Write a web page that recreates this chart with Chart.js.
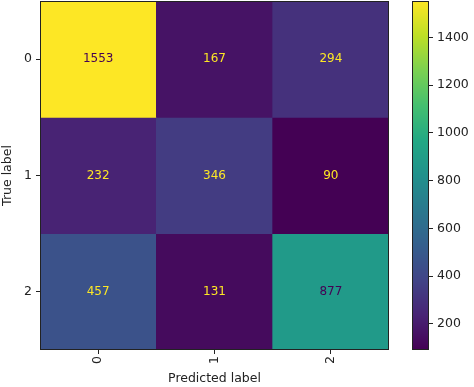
<!DOCTYPE html>
<html>
<head>
<meta charset="utf-8">
<script src="https://cdn.jsdelivr.net/npm/chart.js@4.4.0/dist/chart.umd.min.js"></script>
<style>
  body { margin: 0; background: #fff; }
  #wrap { position: relative; width: 474px; height: 387px; }
  canvas { position: absolute; top: 0; }
</style>
</head>
<body>
<div id="wrap">
  <canvas id="matrix" width="393" height="387" style="left:0"></canvas>
  <canvas id="cbar" width="69" height="387" style="left:405px"></canvas>
</div>
<script>
// confusion matrix counts, rows = true label, columns = predicted label
const trueLabels = ["0", "1", "2"];
const predLabels = ["0", "1", "2"];
const row0 = [1553, 167, 294];
const row1 = [232, 346, 90];
const row2 = [457, 131, 877];
const rows = [row0, row1, row2];
const cbTicks = [200, 400, 600, 800, 1000, 1200, 1400];

const allVals = rows.flat();
const vmin = Math.min(...allVals);
const vmax = Math.max(...allVals);

// viridis stops
const viridisStops = ["#440154", "#482475", "#414487", "#355f8d", "#2a788e",
  "#21918c", "#22a884", "#44bf70", "#7ad151", "#bddf26", "#fde725"];

function hexToRgb(h) {
  return [parseInt(h.slice(1, 3), 16), parseInt(h.slice(3, 5), 16), parseInt(h.slice(5, 7), 16)];
}
function viridis(t) {
  t = Math.max(0, Math.min(1, t));
  const p = t * (viridisStops.length - 1);
  const i = Math.min(Math.floor(p), viridisStops.length - 2);
  const f = p - i;
  const a = hexToRgb(viridisStops[i]), b = hexToRgb(viridisStops[i + 1]);
  const c = a.map((v, k) => Math.round(v + (b[k] - v) * f));
  return `rgb(${c[0]}, ${c[1]}, ${c[2]})`;
}
const norm = v => (v - vmin) / (vmax - vmin);

const frame = {
  id: 'frame',
  afterDatasetsDraw(chart) {
    const a = chart.chartArea, ctx = chart.ctx;
    ctx.save();
    ctx.strokeStyle = '#222';
    ctx.lineWidth = 1;
    ctx.strokeRect(a.left + 0.5, a.top + 0.5, a.right - a.left - 1, a.bottom - a.top - 1);
    ctx.restore();
  }
};

const cellText = {
  id: 'cellText',
  afterDatasetsDraw(chart) {
    const ctx = chart.ctx;
    const xs = chart.scales.x, ys = chart.scales.y;
    const mid = (vmin + vmax) / 2;
    ctx.save();
    ctx.font = '12px "DejaVu Sans"';
    ctx.textAlign = 'center';
    ctx.textBaseline = 'middle';
    rows.forEach((vals, r) => {
      vals.forEach((v, c) => {
        ctx.fillStyle = v > mid ? viridisStops[0] : viridisStops[10];
        ctx.fillText(String(v), xs.getPixelForValue(c), ys.getPixelForValue(r));
      });
    });
    ctx.restore();
  }
};

const tickFont = { family: 'DejaVu Sans', size: 12.5 };

function noPad(s) {
  s.paddingTop = 0;
  s.paddingBottom = 0;
}

new Chart(document.getElementById('matrix'), {
  type: 'bar',
  data: {
    labels: predLabels,
    datasets: rows.map((vals, r) => ({
      label: 'True ' + trueLabels[r],
      data: predLabels.map(() => [r - 0.5, r + 0.5]),
      backgroundColor: vals.map(v => viridis(norm(v))),
      borderWidth: 0,
      barPercentage: 1,
      categoryPercentage: 1,
      grouped: false
    }))
  },
  options: {
    responsive: false,
    animation: false,
    layout: { padding: { top: 1, right: 4, left: 0, bottom: 0 } },
    plugins: { legend: { display: false }, tooltip: { enabled: false } },
    scales: {
      x: {
        grid: { drawOnChartArea: false, offset: false, tickLength: 4, color: '#222' },
        border: { display: false },
        ticks: { font: tickFont, color: '#222', maxRotation: 90, minRotation: 90, padding: 2 },
        title: { display: true, text: 'Predicted label', font: tickFont, color: '#222', padding: { top: 0, bottom: 1 } },
        afterFit(s) { s.height = 37; s.paddingLeft = 0; s.paddingRight = 0; }
      },
      y: {
        type: 'linear',
        reverse: true,
        min: -0.5,
        max: 2.5,
        grid: { drawOnChartArea: false, tickLength: 4, color: '#222' },
        border: { display: false },
        afterBuildTicks(s) { s.ticks = trueLabels.map((_, i) => ({ value: i })); },
        ticks: { font: tickFont, color: '#222', padding: 4, callback: v => trueLabels[v] },
        title: { display: true, text: 'True label', font: tickFont, color: '#222', padding: { top: 0, bottom: 2 } },
        afterFit(s) { s.width = 40; noPad(s); }
      }
    }
  },
  plugins: [cellText, frame]
});

new Chart(document.getElementById('cbar'), {
  type: 'bar',
  data: {
    labels: ['cb'],
    datasets: [{
      data: [[vmin, vmax]],
      borderWidth: 0,
      barPercentage: 1,
      categoryPercentage: 1,
      backgroundColor(ctx) {
        const a = ctx.chart.chartArea;
        if (!a) return viridisStops[5];
        const g = ctx.chart.ctx.createLinearGradient(0, a.bottom, 0, a.top);
        viridisStops.forEach((c, i) => g.addColorStop(i / (viridisStops.length - 1), c));
        return g;
      }
    }]
  },
  options: {
    responsive: false,
    animation: false,
    layout: { padding: { top: 1, left: 7, bottom: 37, right: 0 } },
    plugins: { legend: { display: false }, tooltip: { enabled: false } },
    scales: {
      x: { display: false },
      y: {
        position: 'right',
        min: vmin,
        max: vmax,
        grid: { drawOnChartArea: false, tickLength: 4, color: '#222' },
        border: { display: false },
        afterBuildTicks(s) { s.ticks = cbTicks.map(v => ({ value: v })); },
        ticks: { font: tickFont, color: '#222', padding: 4, callback: v => String(v) },
        afterFit(s) { s.width = 45; noPad(s); }
      }
    }
  },
  plugins: [frame]
});
</script>
</body>
</html>
